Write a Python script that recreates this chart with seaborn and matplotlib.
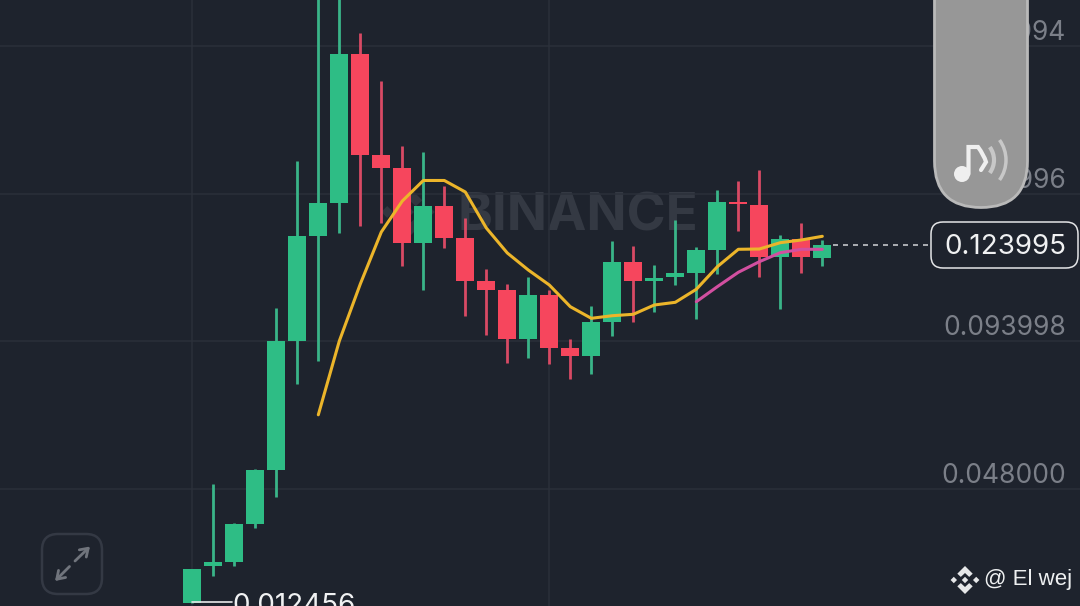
import matplotlib
matplotlib.use('Agg')
import matplotlib.pyplot as plt
import pandas as pd
import seaborn as sns
from matplotlib.patches import Arc, Circle, FancyBboxPatch, PathPatch, Polygon
from matplotlib.path import Path

# candle values
opens = [0.0125, 0.02389, 0.02511, 0.03693, 0.0538, 0.09406, 0.12683, 0.13722,
         0.1835, 0.15203, 0.14795, 0.12456, 0.13638, 0.12627, 0.11299, 0.11006,
         0.09468, 0.1085, 0.09197, 0.08948, 0.10017, 0.1187, 0.11286, 0.11402,
         0.11545, 0.12244, 0.13741, 0.13647, 0.12035, 0.12587, 0.12013]
closes = [0.02293, 0.02511, 0.03693, 0.0538, 0.09406, 0.12683, 0.13722, 0.1835,
          0.15203, 0.14817, 0.12456, 0.13625, 0.12612, 0.11299, 0.11021, 0.09478,
          0.1085, 0.09197, 0.08948, 0.10017, 0.1187, 0.11286, 0.11389, 0.11527,
          0.12244, 0.13741, 0.13678, 0.12035, 0.12587, 0.12026, 0.123995]
highs = [0.0232, 0.04947, 0.03752, 0.05439, 0.10444, 0.15035, 0.215, 0.225,
         0.19024, 0.1753, 0.15506, 0.153, 0.1424, 0.13264, 0.11648, 0.11193,
         0.11402, 0.11006, 0.09487, 0.10507, 0.12534, 0.12387, 0.11795, 0.13189,
         0.12356, 0.14115, 0.14414, 0.14748, 0.1273, 0.13105, 0.12565]
lows = [0.012456, 0.02087, 0.02414, 0.03596, 0.0456, 0.08068, 0.08792, 0.12793,
        0.13011, 0.13095, 0.11745, 0.11021, 0.12309, 0.10201, 0.09612, 0.08729,
        0.08876, 0.08698, 0.08221, 0.08396, 0.09581, 0.09999, 0.10329, 0.11171,
        0.10092, 0.11505, 0.12836, 0.11402, 0.10404, 0.11545, 0.11754]

ma7 = [0.07114, 0.09415, 0.11193, 0.12814, 0.13781, 0.14421, 0.14421, 0.14062,
       0.12939, 0.1216, 0.11629, 0.11162, 0.10485, 0.10123, 0.10204, 0.10248,
       0.10538, 0.10622, 0.11028, 0.11732, 0.12275, 0.12284, 0.12481, 0.12565,
       0.1268]
ma25 = [0.10641, 0.11109, 0.11558, 0.11888, 0.12169, 0.12275, 0.12275]

price_ticks = [0.048, 0.093998, 0.139996, 0.185994]
price_labels = ['0.048000', '0.093998', '0.139996', '0.185994']
last_label = '0.123995'
low_label = '0.012456'
v_grid = [0, 17]

BG = '#1e232d'
GRID = '#2b303a'
GREEN = '#2ebd85'
RED = '#f6465d'
GREEN_WICK = '#3ab488'
RED_WICK = '#d84a64'
FONT = 'Inter'

sns.set_theme(style='dark', rc={'figure.facecolor': BG, 'axes.facecolor': BG})
plt.rcParams['font.family'] = [FONT, 'DejaVu Sans']


def pixel_axes(fig, z):
    a = fig.add_axes([0, 0, 1, 1], zorder=z)
    a.set_xlim(0, 1080)
    a.set_ylim(606, 0)
    a.axis('off')
    return a


def binance_logo(a, cx, cy, s, color):
    top = [(0, -1), (0.55, -0.45), (0.3, -0.22), (0, -0.5), (-0.3, -0.22), (-0.55, -0.45)]
    for sign in (1, -1):
        a.add_patch(Polygon([(cx + x * s, cy + sign * y * s) for x, y in top], fc=color, ec='none'))
    for dx in (-0.8, 0, 0.8):
        diamond = [(dx, -0.23), (dx + 0.23, 0), (dx, 0.23), (dx - 0.23, 0)]
        a.add_patch(Polygon([(cx + x * s, cy + y * s) for x, y in diamond], fc=color, ec='none'))


fig = plt.figure(figsize=(10.8, 6.06), dpi=100)

# watermark goes under the chart
back = pixel_axes(fig, 0)
binance_logo(back, 408, 212, 26, '#31363f')
back.text(578, 217, 'BINANCE', color='#343943', fontsize=38, fontweight='bold',
          ha='center', va='center')

ax = fig.add_axes([0, 0, 1, 1], zorder=1)
ax.patch.set_alpha(0)
ax.set_xlim(-9.157, 42.27)
ax.set_ylim(0.011514, 0.20049)
for s in ax.spines.values():
    s.set_visible(False)
ax.set_xticks([])
ax.set_yticks([])
ax.grid(False)

for v in price_ticks:
    ax.axhline(v, color=GRID, lw=1.1, zorder=1)
for v in v_grid:
    ax.axvline(v, color=GRID, lw=1.1, zorder=1)

for i in range(len(opens)):
    up = closes[i] >= opens[i]
    ax.vlines(i, lows[i], highs[i], color=GREEN_WICK if up else RED_WICK, lw=2, zorder=2)
    ax.bar(i, abs(closes[i] - opens[i]), bottom=min(opens[i], closes[i]), width=0.87,
           color=GREEN if up else RED, linewidth=0, zorder=3)

df7 = pd.DataFrame({'x': range(6, 6 + len(ma7)), 'y': ma7})
df25 = pd.DataFrame({'x': range(24, 24 + len(ma25)), 'y': ma25})
sns.lineplot(data=df25, x='x', y='y', ax=ax, color='#d24fa0', lw=2.2, estimator=None, zorder=4)
sns.lineplot(data=df7, x='x', y='y', ax=ax, color='#ecb52a', lw=2.2, estimator=None, zorder=5)
ax.set_xlabel('')
ax.set_ylabel('')

for v, t in zip(price_ticks, price_labels):
    ax.annotate(t, xy=(1, v), xycoords=ax.get_yaxis_transform(), xytext=(-10, 0),
                textcoords='offset points', ha='right', va='bottom', color='#7b7f88',
                fontsize=19)

# last price marker, buttons and screen overlay
top = pixel_axes(fig, 2)
top.plot([833, 931], [245, 245], color='#c4c6ca', lw=1.2, ls=(0, (3, 3)))
top.add_patch(FancyBboxPatch((931, 222), 147, 46, boxstyle='round,pad=0,rounding_size=12',
                             fc=BG, ec='#e4e5e7', lw=1.1))
top.text(1005.5, 247, last_label, color='#f0f1f2', fontsize=20, ha='center', va='center')

top.plot([192, 232], [602, 602], color='#e8e9ea', lw=1.2)
top.text(232, 613, low_label, color='#f0f1f2', fontsize=20, ha='left', va='baseline')

top.add_patch(FancyBboxPatch((42, 534), 60, 60, boxstyle='round,pad=0,rounding_size=16',
                             fc='none', ec='#343944', lw=1.8))
arrow = dict(arrowstyle='->,head_length=0.45,head_width=0.3', color='#70747c', lw=2, shrinkA=0, shrinkB=0)
top.annotate('', xy=(90, 546.5), xytext=(75, 561), arrowprops=arrow)
top.annotate('', xy=(55, 581), xytext=(69.5, 566.5), arrowprops=arrow)

top.add_patch(FancyBboxPatch((934.5, -100), 93, 307.5, boxstyle='round,pad=0,rounding_size=46.5',
                             fc='#979797', ec='#b9b9b9', lw=2))

# music note icon
top.add_patch(Circle((962, 174), 8, fc='#efefef', ec='none'))
note = Path([(968.5, 174), (968.5, 147), (978, 147), (984, 155), (986, 162), (981, 170)],
            [Path.MOVETO, Path.LINETO, Path.LINETO, Path.CURVE3, Path.CURVE3, Path.LINETO])
top.add_patch(PathPatch(note, fc='none', ec='#efefef', lw=3, capstyle='round'))
for r, w in ((22, 3), (34, 2.5)):
    top.add_patch(Arc((972, 160), 2 * r, 2 * r, theta1=-36, theta2=36, color='#c8c8c8', lw=w))

binance_logo(top, 965, 580, 14, '#e6e7e8')
top.text(984, 580, '@ El wej', color='#eef0f1', fontsize=16, ha='left', va='center',
         family='Liberation Sans')

fig.savefig('out.png', dpi=100, facecolor=BG)
